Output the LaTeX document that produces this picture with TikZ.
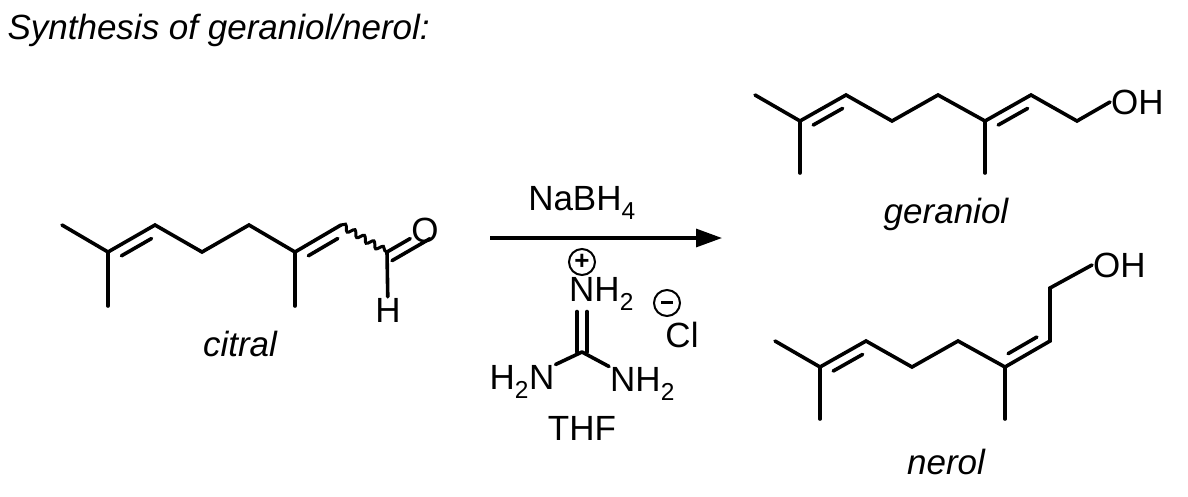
\documentclass[tikz,border=0pt]{standalone}
\usepackage{fontspec}
\setmainfont{Liberation Sans}
\usetikzlibrary{calc,arrows.meta,decorations.pathmorphing}
\tikzset{
    bond/.style={line width=3.6pt, line cap=round},
    lbl/.style={font=\fontsize{35}{38}\selectfont, inner sep=1pt},
    molname/.style={font=\fontsize{35}{38}\selectfont\itshape},
    chg/.style={circle, draw, line width=2pt, inner sep=0pt, minimum size=26pt, font=\fontsize{26}{26}\selectfont\bfseries}
}
\newcommand{\dbl}[3]{\draw[bond] ($(#1)!.18!(#2)!10pt!#3:(#2)$) -- ($(#2)!.18!(#1)!10pt!-#3:(#1)$);}
\begin{document}
\begin{tikzpicture}[x=1pt, y=-1pt]
    \useasboundingbox (0,0) rectangle (1188,496);
    \node[molname, anchor=west] (title) at (4,30) {Synthesis of geraniol/nerol:};

    % citral
    \coordinate (a1) at (62,225);
    \coordinate (a2) at (108,252);
    \coordinate (a2m) at (108,306);
    \coordinate (a3) at (155,225);
    \coordinate (a4) at (202,252);
    \coordinate (a5) at (249,225);
    \coordinate (a6) at (295,252);
    \coordinate (a6m) at (295,306);
    \coordinate (a7) at (341,225);
    \coordinate (a8) at (387,252);
    \node[lbl] (aO) at (425,230) {O};
    \node[lbl] (aH) at (388,310) {H};
    \draw[bond] (a1) -- (a2) -- (a3) -- (a4) -- (a5) -- (a6) -- (a7);
    \draw[bond] (a2) -- (a2m);
    \draw[bond] (a6) -- (a6m);
    \dbl{a2}{a3}{-90}
    \dbl{a6}{a7}{-90}
    \draw[line width=3pt, decorate, decoration={snake, amplitude=3pt, segment length=11pt}] (a7) -- (a8);
    \draw[bond] (a8) -- (aO);
    \draw[bond] ($(a8)!10pt!-90:(aO)$) -- ($(aO)!10pt!90:(a8)$);
    \draw[bond] (a8) -- (aH);
    \node[molname] (citral) at (240,344) {citral};

    % reagents
    \node[lbl] (nabh) at (582,203) {NaBH\textsubscript{4}};
    \coordinate (arrS) at (490,238);
    \coordinate (arrE) at (722,238);
    \draw[line width=3.2pt, -{Triangle[length=26pt, width=18pt]}] (arrS) -- (arrE);
    \node[chg] (plus) at (582,262) {+};
    \node[lbl, anchor=west] (nt) at (568,294) {NH\textsubscript{2}};
    \coordinate (gc) at (582,352);
    \node[lbl] (nl) at (522,382) {H\textsubscript{2}N};
    \node[lbl, anchor=west] (nr) at (609,384) {NH\textsubscript{2}};
    \node[chg] (minus) at (667,303) {\rule[1pt]{12pt}{2.5pt}};
    \node[lbl] (cl) at (682,335) {Cl};
    \node[lbl] (thf) at (582,428) {THF};
    \draw[bond] (gc) -- (nl.north east);
    \draw[bond] (gc) -- (nr.north west);
    \draw[bond] ($(gc)+(-5,0)$) -- ($(nt.south west)+(9,0)$);
    \draw[bond] ($(gc)+(5,0)$) -- ($(nt.south west)+(19,0)$);

    % geraniol
    \coordinate (g1) at (755,95);
    \coordinate (g2) at (800,121);
    \coordinate (g2m) at (800,173);
    \coordinate (g3) at (846,95);
    \coordinate (g4) at (892,121);
    \coordinate (g5) at (938,95);
    \coordinate (g6) at (985,121);
    \coordinate (g6m) at (985,173);
    \coordinate (g7) at (1031,95);
    \coordinate (g8) at (1077,121);
    \node[lbl, anchor=west] (gOH) at (1110,102) {OH};
    \draw[bond] (g1) -- (g2) -- (g3) -- (g4) -- (g5) -- (g6) -- (g7) -- (g8) -- (gOH.west);
    \draw[bond] (g2) -- (g2m);
    \draw[bond] (g6) -- (g6m);
    \dbl{g2}{g3}{-90}
    \dbl{g6}{g7}{-90}
    \node[molname] (geraniol) at (946,214) {geraniol};

    % nerol
    \coordinate (n1) at (775,341);
    \coordinate (n2) at (820,367);
    \coordinate (n2m) at (820,419);
    \coordinate (n3) at (866,341);
    \coordinate (n4) at (912,367);
    \coordinate (n5) at (958,341);
    \coordinate (n6) at (1005,367);
    \coordinate (n6m) at (1005,419);
    \coordinate (n7) at (1050,341);
    \coordinate (n8) at (1050,288);
    \node[lbl, anchor=west] (nOH) at (1092,265) {OH};
    \draw[bond] (n1) -- (n2) -- (n3) -- (n4) -- (n5) -- (n6) -- (n7) -- (n8) -- (nOH.west);
    \draw[bond] (n2) -- (n2m);
    \draw[bond] (n6) -- (n6m);
    \dbl{n2}{n3}{-90}
    \dbl{n6}{n7}{90}
    \node[molname] (nerol) at (946,462) {nerol};
\end{tikzpicture}
\end{document}
